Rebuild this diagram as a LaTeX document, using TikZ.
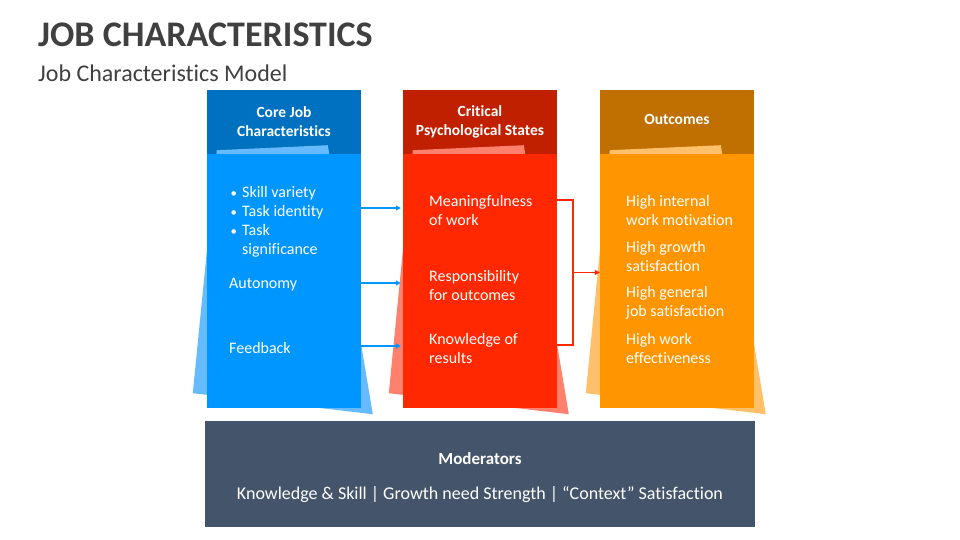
\documentclass[tikz,border=0pt]{standalone}
\usepackage{fontspec}
\setmainfont{Carlito}[Ligatures=NoCommon]
\usetikzlibrary{positioning,arrows.meta,calc}
\definecolor{coreHead}{RGB}{0,112,192}
\definecolor{coreBody}{RGB}{0,150,255}
\definecolor{coreBack}{RGB}{102,187,255}
\definecolor{critHead}{RGB}{192,32,0}
\definecolor{critBody}{RGB}{255,40,0}
\definecolor{critBack}{RGB}{255,128,108}
\definecolor{outHead}{RGB}{192,112,0}
\definecolor{outBody}{RGB}{255,149,0}
\definecolor{outBack}{RGB}{255,192,106}
\definecolor{modFill}{RGB}{68,84,106}
\definecolor{titleGray}{RGB}{64,64,64}
\tikzset{
  headbox/.style={rectangle, minimum width=154pt, minimum height=64pt, inner sep=0pt, align=center, text=white, font=\fontsize{15.5}{19}\selectfont\bfseries},
  bodybox/.style={rectangle, minimum width=154pt, minimum height=254pt, inner sep=0pt},
  item/.style={anchor=west, inner sep=0pt, align=left, text=white, font=\fontsize{16}{19}\selectfont},
  modbox/.style={rectangle, fill=modFill, minimum width=550pt, minimum height=106pt, inner sep=0pt},
  modtext/.style={inner sep=0pt, text=white, font=\fontsize{18}{22}\selectfont},
  bluearrow/.style={-{Triangle[length=5pt,width=5pt]}, line width=1.3pt, draw=coreBody},
  redline/.style={line width=1.3pt, draw=critBody},
  redarrow/.style={-{Triangle[length=5pt,width=5pt]}, line width=1.3pt, draw=critBody}
}
\newcommand{\bul}{\makebox[13pt][l]{\hspace{1.5pt}\scalebox{0.8}{•}}}
\begin{document}
\begin{tikzpicture}[x=1pt,y=-1pt]
\useasboundingbox[fill=white] (0,0) rectangle (960,540);
% title
\node[anchor=base west, inner sep=0pt, text=titleGray, font=\fontsize{36}{40}\selectfont\bfseries] (title) at (38,47) {JOB CHARACTERISTICS};
\node[anchor=base west, inner sep=0pt, text=titleGray, font=\fontsize{24}{28}\selectfont] (subtitle) at (38,81.5) {Job Characteristics Model};
% column heads
\node[headbox, fill=coreHead] (coreH) at (284,122) {Core Job\\Characteristics};
\node[headbox, fill=critHead] (critH) at (480,122) {Critical\\Psychological States};
\node[headbox, fill=outHead, text depth=0pt, text height=14pt] (outH) at (677,122) {};
\node[inner sep=0pt, text=white, font=\fontsize{15.5}{19}\selectfont\bfseries] (outT) at (677,119.5) {Outcomes};
% sheets behind the columns
\fill[coreBack] ($(coreH.south west)+(10,-4)$) -- ($(coreH.south west)+(121,-9)$) -- ($(coreH.south west)+(166,260)$) -- ($(coreH.south west)+(-14,239)$) -- cycle;
\fill[critBack] ($(critH.south west)+(10,-4)$) -- ($(critH.south west)+(121,-9)$) -- ($(critH.south west)+(166,260)$) -- ($(critH.south west)+(-14,239)$) -- cycle;
\fill[outBack] ($(outH.south west)+(10,-4)$) -- ($(outH.south west)+(121,-9)$) -- ($(outH.south west)+(166,260)$) -- ($(outH.south west)+(-14,239)$) -- cycle;
% column bodies
\node[bodybox, fill=coreBody] (coreB) at (284,281) {};
\node[bodybox, fill=critBody] (critB) at (480,281) {};
\node[bodybox, fill=outBody] (outB) at (677,281) {};
% core job characteristics
\node[item] (skills) at (229,221.5) {\bul Skill variety\\\bul Task identity\\\bul Task\\\makebox[13pt]{}significance};
\node[item] (autonomy) at (229,284.5) {Autonomy};
\node[item] (feedback) at (229,348.5) {Feedback};
% critical psychological states
\node[item] (meaning) at (429,210.5) {Meaningfulness\\of work};
\node[item] (respons) at (429,285.5) {Responsibility\\for outcomes};
\node[item] (knowledge) at (429,348.5) {Knowledge of\\results};
% outcomes
\node[item] (motiv) at (626,210.5) {High internal\\work motivation};
\node[item] (growth) at (626,256.5) {High growth\\satisfaction};
\node[item] (general) at (626,302.5) {High general\\job satisfaction};
\node[item] (effect) at (626,348.5) {High work\\effectiveness};
% moderators
\node[modbox] (mods) at (480,474) {};
\node[modtext, font=\fontsize{17}{22}\selectfont\bfseries] (modTitle) at (480,459) {Moderators};
\node[modtext] (modList) at (480,494.5) {Knowledge \& Skill | Growth need Strength | “Context” Satisfaction};
% connectors
\draw[bluearrow, shorten >=2pt] ([yshift=2.5pt]coreB.east |- meaning.west) -- ([yshift=2.5pt]critB.west |- meaning.west);
\draw[bluearrow, shorten >=2pt] ([yshift=2.5pt]coreB.east |- respons.west) -- ([yshift=2.5pt]critB.west |- respons.west);
\draw[bluearrow, shorten >=2pt] ([yshift=2.5pt]coreB.east |- knowledge.west) -- ([yshift=2.5pt]critB.west |- knowledge.west);
\coordinate (brkTop) at (573,200);
\coordinate (brkBot) at (573,345);
\draw[redline] (critB.east |- brkTop) -- (brkTop) -- (brkBot) -- (critB.east |- brkBot);
\draw[redarrow] ($(brkTop)!0.5!(brkBot)$) -- (outB.west |- {$(brkTop)!0.5!(brkBot)$});
\end{tikzpicture}
\end{document}
